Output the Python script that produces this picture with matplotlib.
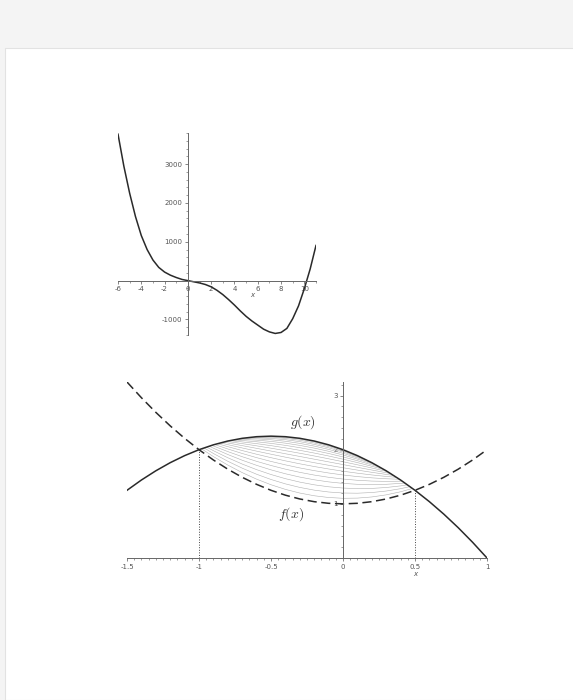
import matplotlib
matplotlib.use("Agg")
import matplotlib.pyplot as plt
from matplotlib.patches import Rectangle
from matplotlib.ticker import MultipleLocator

plt.rcParams["axes.unicode_minus"] = False
plt.rcParams["mathtext.fontset"] = "cm"

# Top plot data
x1 = [-6, -5.5, -5, -4.5, -4, -3.5, -3, -2.5, -2, -1.5, -1, -0.5, 0, 0.5, 1, 1.5, 2, 2.5, 3, 3.5,
      4, 4.5, 5, 5.5, 6, 6.5, 7, 7.5, 8, 8.5, 9, 9.5, 10, 10.5, 11]
y1 = [3770, 2950, 2250, 1650, 1160, 800, 530, 340, 220, 140, 80, 30, 0, -30, -60, -100, -160, -250,
      -360, -490, -630, -780, -920, -1040, -1145, -1250, -1320, -1360, -1335, -1230, -980, -650,
      -205, 300, 905]
x1_ticks = [-6, -4, -2, 0, 2, 4, 6, 8, 10]
y1_ticks = [-1000, 1000, 2000, 3000]

# Bottom plot data
x2 = [-1.5, -1.4, -1.3, -1.2, -1.1, -1.0, -0.9, -0.8, -0.7, -0.6, -0.5, -0.4, -0.3, -0.2, -0.1,
      0.0, 0.1, 0.2, 0.3, 0.4, 0.5, 0.6, 0.7, 0.8, 0.9, 1.0]
f_vals = [3.25, 2.96, 2.69, 2.44, 2.21, 2.00, 1.81, 1.64, 1.49, 1.36, 1.25, 1.16, 1.09, 1.04, 1.01,
          1.00, 1.01, 1.04, 1.09, 1.16, 1.25, 1.36, 1.49, 1.64, 1.81, 2.00]
g_vals = [1.25, 1.44, 1.61, 1.76, 1.89, 2.00, 2.09, 2.16, 2.21, 2.24, 2.25, 2.24, 2.21, 2.16, 2.09,
          2.00, 1.89, 1.76, 1.61, 1.44, 1.25, 1.04, 0.81, 0.56, 0.29, 0.00]
x2_ticks = [-1.5, -1, -0.5, 0, 0.5, 1]
x2_labels = ["-1.5", "-1", "-0.5", "0", "0.5", "1"]
y2_ticks = [1, 2, 3]

fig = plt.figure(figsize=(5.73, 7.0), dpi=100, facecolor="#f4f4f4")
card = Rectangle((5/573, 0), 1, 1 - 48/700, transform=fig.transFigure,
                 facecolor="white", edgecolor="#e2e2e2", lw=0.8, zorder=-10)
fig.add_artist(card)

lc = "#2a2a2a"
tc = "#555555"

def style(ax):
    ax.set_facecolor("none")
    ax.set_zorder(5)
    for s in ["top", "right"]:
        ax.spines[s].set_visible(False)
    ax.spines["left"].set_position(("data", 0))
    ax.spines["bottom"].set_position(("data", 0))
    for s in ["left", "bottom"]:
        ax.spines[s].set_color("#666666")
        ax.spines[s].set_linewidth(0.7)
    ax.tick_params(labelsize=5, colors=tc, length=2.5, width=0.5, pad=1.5)
    ax.tick_params(which="minor", length=1.5, width=0.4, colors=tc)

ax1 = fig.add_axes([118/573, 1 - 335/700, 198/573, 202/700])
style(ax1)
ax1.plot(x1, y1, color=lc, lw=1.1)
ax1.set_xlim(-6, 11)
ax1.set_ylim(-1400, 3800)
ax1.set_xticks(x1_ticks)
ax1.set_yticks(y1_ticks)
ax1.xaxis.set_minor_locator(MultipleLocator(1))
ax1.yaxis.set_minor_locator(MultipleLocator(200))
ax1.text(5.5, -430, "x", fontsize=5, style="italic", color=tc, ha="center")

ax2 = fig.add_axes([127/573, 1 - 558/700, 360/573, 176/700])
style(ax2)
xs = x2[5:21]
fs = f_vals[5:21]
gs = g_vals[5:21]
region = ax2.fill_between(xs, fs, gs, color="none", lw=0)
n = 18
for k in range(1, n):
    t = k / n
    ln, = ax2.plot(xs, [(1 - t) * f + t * g + 0.9 * t * (1 - t) for f, g in zip(fs, gs)],
                   color="#b0b0b0", lw=0.4)
    ln.set_clip_path(region.get_paths()[0], ax2.transData)
ax2.plot(x2, g_vals, color=lc, lw=1.1)
ax2.plot(x2, f_vals, color=lc, lw=1.1, ls=(0, (6, 3)))
ax2.plot([-1, -1], [0, 2.0], color="#444444", lw=0.7, ls=":")
ax2.plot([0.5, 0.5], [0, 1.25], color="#444444", lw=0.7, ls=":")
ax2.set_xlim(-1.5, 1)
ax2.set_ylim(0, 3.25)
ax2.set_xticks(x2_ticks, x2_labels)
ax2.set_yticks(y2_ticks)
ax2.xaxis.set_minor_locator(MultipleLocator(0.05))
ax2.yaxis.set_minor_locator(MultipleLocator(0.2))
ax2.text(-0.28, 2.45, "$g(x)$", fontsize=10, color="#333333", ha="center")
ax2.text(-0.36, 0.75, "$f(x)$", fontsize=10, color="#333333", ha="center")
ax2.text(0.5, -0.33, "x", fontsize=5, style="italic", color=tc, ha="center")

fig.savefig("out.png", dpi=100, facecolor=fig.get_facecolor())
